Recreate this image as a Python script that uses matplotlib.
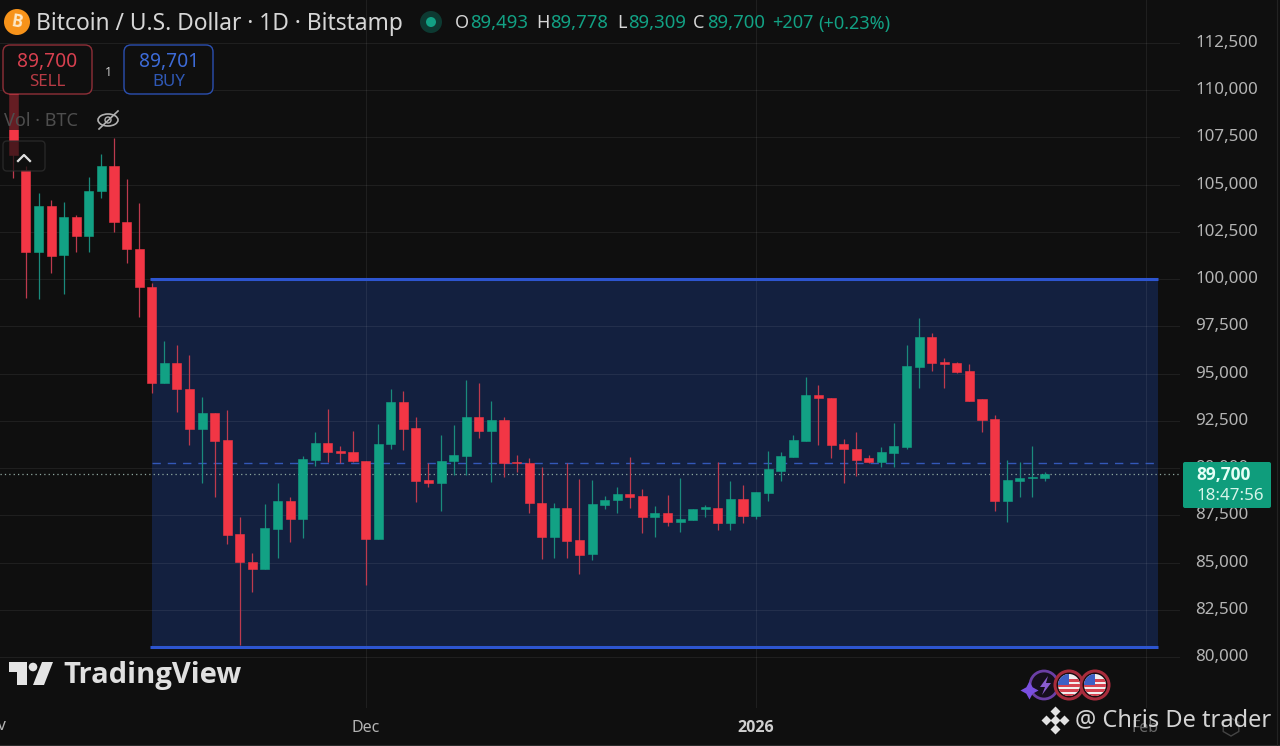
import matplotlib
matplotlib.use('Agg')
from matplotlib import pyplot as plt
from matplotlib import dates as mdates
from matplotlib.patches import Circle, Ellipse, FancyBboxPatch, Polygon, Rectangle, RegularPolygon
from matplotlib.transforms import ScaledTranslation
import numpy as np
import pandas as pd

plt.rcParams['font.family'] = ['Noto Sans', 'DejaVu Sans']

dates = pd.date_range('2025-11-03', periods=83)
opens = [110010, 105780, 101440, 103870, 101280, 103290, 102290, 104670, 105990, 103030, 101600, 99590,
         94500, 95560, 94190, 92070, 92920, 91490, 86510, 85030, 84660, 86780, 88260, 87310, 90430, 91330,
         90910, 90850, 90380, 86250, 91280, 93500, 92120, 89370, 89210, 90380, 90640, 92700, 91960, 92550,
         90320, 90270, 88150, 86350, 87890, 86190, 85450, 88050, 88310, 88630, 88520, 87410, 87620, 87150,
         87250, 87840, 87890, 87090, 88360, 87460, 88680, 89850, 90590, 91430, 93870, 93710, 91280, 91010,
         90530, 90320, 90800, 91120, 95350, 96940, 95620, 95560, 95140, 93660, 92600, 88260, 89320, 89480,
         89493]
highs = [110810, 105980, 104560, 104190, 104080, 103400, 105410, 106630, 107470, 105300, 104030, 99800,
         96730, 96520, 95990, 93760, 92920, 93080, 87410, 85510, 88100, 89210, 88470, 90640, 91910, 93130,
         91170, 91960, 90380, 92330, 94190, 94080, 92700, 90270, 91750, 92280, 94660, 94500, 93550, 92700,
         90690, 90530, 90060, 88150, 90270, 89420, 89370, 88520, 89000, 90590, 88890, 87990, 88580, 89480,
         87840, 88050, 90320, 89320, 89100, 88730, 90900, 90850, 91750, 94820, 94400, 93710, 91540, 91910,
         90690, 91120, 92390, 96520, 97940, 97150, 95830, 95620, 95510, 93660, 92810, 90430, 90320, 91170,
         89778]
lows = [105350, 99000, 98950, 100330, 99220, 101440, 101440, 104300, 102500, 100860, 98000, 93980,
        94500, 92970, 91220, 89210, 88470, 85980, 80640, 83440, 84660, 85240, 86090, 86300, 90110, 90320,
        90270, 90320, 83810, 86250, 91010, 90960, 88210, 89000, 87730, 89630, 89630, 91590, 89260, 89530,
        89790, 87620, 85190, 85240, 85240, 84390, 85140, 87840, 87620, 87890, 86560, 86350, 86930, 86620,
        87250, 87410, 86720, 86720, 87090, 87300, 88260, 89320, 90590, 91430, 91220, 90530, 89210, 89580,
        90270, 90060, 90060, 91010, 94240, 95140, 94240, 95030, 93550, 91910, 87730, 87150, 88470, 88470,
        89309]
closes = [106570, 101440, 103870, 101230, 103290, 102290, 104670, 105990, 103030, 101600, 99590, 94500,
          95560, 94190, 92070, 92920, 91430, 86460, 85030, 84660, 86830, 88260, 87310, 90480, 91330, 90850,
          90800, 90380, 86250, 91280, 93500, 92070, 89320, 89210, 90380, 90690, 92700, 91960, 92550, 90270,
          90270, 88150, 86350, 87890, 86140, 85400, 88100, 88310, 88630, 88470, 87410, 87620, 87150, 87310,
          87840, 87940, 87090, 88360, 87460, 88730, 89950, 90640, 91490, 93870, 93710, 91220, 91010, 90430,
          90320, 90850, 91170, 95400, 96940, 95560, 95510, 95090, 93550, 92550, 88260, 89370, 89480, 89530,
          89700]

price_ticks = np.arange(80000, 112501, 2500)
time_ticks = ['2025-12-01', '2026-01-01', '2026-02-01']
time_labels = ['Dec', '2026', 'Feb']
box_start, box_end = '2025-11-14', '2026-02-02'
box_top, box_bottom = 100010, 80530
last_price = 89700
mid_price = 90290

bg = '#0f0f0f'
up, down = '#12a184', '#f23645'
up_wick, down_wick = '#1a8a7c', '#bd3a4e'
blue = '#2d55d0'

fig = plt.figure(figsize=(12.8, 7.46), dpi=100, facecolor=bg)
ax = fig.add_axes([0, 1 - 708 / 746, 1180 / 1280, 708 / 746], facecolor=bg)

x = mdates.date2num(dates)
day_px = 12.58
dec_first = mdates.date2num(pd.Timestamp('2025-12-01'))
ax.set_xlim(dec_first - 365.6 / day_px, dec_first + (1180 - 365.6) / day_px)
ax.set_ylim(114776 - 52.93 * 708, 114776)

x0, x1 = mdates.date2num(pd.Timestamp(box_start)), mdates.date2num(pd.Timestamp(box_end))
ax.add_patch(Rectangle((x0, box_bottom), x1 - x0, box_top - box_bottom, fc='#13203f', ec='none', zorder=0.4))
ax.hlines([box_top, box_bottom], x0 - 0.1, x1, color=blue, lw=2.2, zorder=5)
ax.hlines(mid_price, x0, x1, color='#3358b8', lw=1, linestyles=(0, (6, 5)), zorder=1)
ax.axhline(last_price, color='#8fa8a0', lw=0.9, linestyle=(0, (1, 2.5)), zorder=1)

colors = [up if c >= o else down for o, c in zip(opens, closes)]
wicks = [up_wick if c >= o else down_wick for o, c in zip(opens, closes)]
ax.vlines(x, lows, highs, color=wicks, lw=0.9, zorder=3)
ax.bar(x, np.array(closes) - np.array(opens), bottom=opens, width=0.72, color=colors,
       edgecolor=colors, linewidth=0.4, zorder=4)

ax.set_axisbelow(True)
ax.grid(True, color='white', alpha=0.07, lw=0.8)
ax.yaxis.tick_right()
ax.set_yticks(price_ticks)
ax.set_yticklabels([f'{p:,}' for p in price_ticks])
ax.set_xticks(mdates.date2num(pd.to_datetime(time_ticks)))
ax.set_xticklabels(time_labels)
ax.tick_params(axis='y', length=0, pad=11, labelsize=12.2, labelcolor='#b4b4b4')
ax.tick_params(axis='x', length=0, pad=8.5, labelsize=11.5, labelcolor='#b4b4b4')
up_2px = ScaledTranslation(0, 2 / 72 * 0.72, fig.dpi_scale_trans)
for t in ax.get_yticklabels():
    t.set_transform(t.get_transform() + up_2px)
year_label = ax.get_xticklabels()[1]
year_label.set_fontfamily('Open Sans')
year_label.set_fontweight('bold')
year_label.set_color('#cfcfcf')
ax.get_xticklabels()[2].set_color('#6a6a6a')
for s in ax.spines.values():
    s.set_visible(False)

# everything of the TradingView interface sits on a pixel overlay
ui = fig.add_axes([0, 0, 1, 1], facecolor='none')
ui.set_xlim(0, 1280)
ui.set_ylim(746, 0)
ui.axis('off')


def label(px, py, s, color, size, ha='center', weight='normal', family=None):
    ui.text(px, py + 1.5, s, color=color, fontsize=size, ha=ha, va='center', fontweight=weight,
            family=family or ['Noto Sans', 'DejaVu Sans'])


def rounded(px, py, w, h, r, fc, ec, alpha=1.0, lw=1.0):
    ui.add_patch(FancyBboxPatch((px + r, py + r), w - 2 * r, h - 2 * r, boxstyle=f'round,pad={r},rounding_size={r}',
                                fc=fc, ec=ec, lw=lw, alpha=alpha))


def flag(cx, cy):
    ui.add_patch(Circle((cx, cy), 14, fc='#1a0d10', ec='#a82c3c', lw=2.2, zorder=6))
    disc = Circle((cx, cy), 11, fc='#f2eeee', ec='none', zorder=7)
    ui.add_patch(disc)
    for dy in (-6, -1, 4, 9):
        ui.add_patch(Rectangle((cx - 12, cy + dy), 24, 2.6, fc='#d5424f', ec='none', zorder=8, clip_path=disc))
    ui.add_patch(Rectangle((cx - 12, cy - 12), 12, 12, fc='#3d5fc4', ec='none', zorder=9, clip_path=disc))


# header
ui.add_patch(Circle((17, 22), 13, fc='#f7931a', ec='none'))
ui.text(17, 22, 'B', color='#fde8c8', fontsize=12, ha='center', va='center', fontweight='bold',
        family='Open Sans', rotation=-10)
label(36, 22, 'Bitcoin / U.S. Dollar · 1D · Bitstamp', '#d6d6d6', 16.4, ha='left')
ui.add_patch(Circle((431, 22), 11, fc='#0d3a32', ec='none'))
ui.add_patch(Circle((431, 22), 5, fc='#12a184', ec='none'))
for px, s in zip([455, 536, 617, 693], 'OHLC'):
    label(px, 22, s, '#d6d6d6', 13, ha='left')
for px, s in zip([470, 550, 628, 707], ['89,493', '89,778', '89,309', '89,700']):
    label(px, 22, s, up, 13.4, ha='left')
label(772, 22, '+207', up, 13, ha='left')
label(818, 22, '(+0.23%)', up, 13, ha='left')

# trade buttons
rounded(3, 45, 89, 49, 7, bg, '#8f2f38')
label(47, 60, '89,700', '#d8404f', 13.8)
label(47, 80, 'SELL', '#b83b45', 12.2)
label(108, 71, '1', '#cfcfcf', 9)
rounded(124, 45, 89, 49, 7, bg, '#2b4fb0')
label(169, 60, '89,701', '#3d6bd8', 13.8)
label(169, 80, 'BUY', '#2f58b5', 12.2)

# volume legend, dims the candle beneath it
ui.add_patch(Rectangle((0, 95), 90, 35, fc=bg, ec='none', alpha=0.62))
label(4, 119, 'Vol · BTC', '#4e4e4e', 13, ha='left')
ui.add_patch(Ellipse((108, 120), 20, 12, fc='none', ec='#b0b0b0', lw=1.2))
ui.add_patch(Circle((108, 120), 3, fc='none', ec='#b0b0b0', lw=1))
ui.plot([99, 118], [129, 111], color='#b0b0b0', lw=1.2)
rounded(3, 141, 42, 30, 4, bg, '#303030', alpha=0.72)
ui.plot([18, 24, 30], [161, 155, 161], color='#e0e0e0', lw=1.6)

# last price tag
rounded(1183, 462, 88, 46, 2, '#0f9d7c', 'none')
ui.text(1196, 475, '89,700', color='#e4fff6', fontsize=12.5, ha='left', va='center', fontweight='bold', family='Open Sans')
label(1196, 494, '18:47:56', '#d6f5ea', 12.2, ha='left')

# logo
ui.add_patch(Polygon([(9, 662), (27, 662), (27, 685), (17, 685), (17, 672), (9, 672)], fc='#e4e4e4', ec='none'))
ui.add_patch(Circle((33, 667), 4.3, fc='#e4e4e4', ec='none'))
ui.add_patch(Polygon([(42, 662), (53, 662), (44, 685), (33, 685)], fc='#e4e4e4', ec='none'))
ui.text(63, 676, 'TradingView', color='#e0e0e0', fontsize=21, ha='left', va='center', fontweight='bold', family='Open Sans')

# event icons
ui.add_patch(Circle((1044, 685), 14, fc='#150f1c', ec='#6b3fa6', lw=2))
ui.add_patch(Polygon([(1048, 676), (1040, 687), (1045, 687), (1042, 695), (1051, 683), (1046, 683)], fc='#8a5cd0', ec='none'))
ui.plot([1029], [690], marker=(4, 1, 0), color='#7a4fe0', ms=13, mec='none')
flag(1069, 685)
flag(1095, 685)

# time axis leftovers, then the watermark on top
ui.text(-9, 726, 'Nov', color='#b4b4b4', fontsize=11.5, ha='center', va='center')
ui.add_patch(RegularPolygon((1231, 727), 6, radius=9, fc='none', ec='#444444', lw=1))
ui.plot([0, 1280], [745, 745], color='#2a2a2a', lw=0.8)
ui.plot([1277, 1277], [0, 746], color='#222222', lw=0.8)
for dx, dy in [(0, -9), (-9, 0), (9, 0), (0, 9), (0, 0)]:
    ui.plot([1055 + dx], [720 + dy], marker='D', color='#e2e2e2', ms=4.6, mec='none')
label(1075, 719, '@ Chris De trader', '#d4d4d4', 17, ha='left')

fig.savefig('out.png', dpi=100, facecolor=bg)
